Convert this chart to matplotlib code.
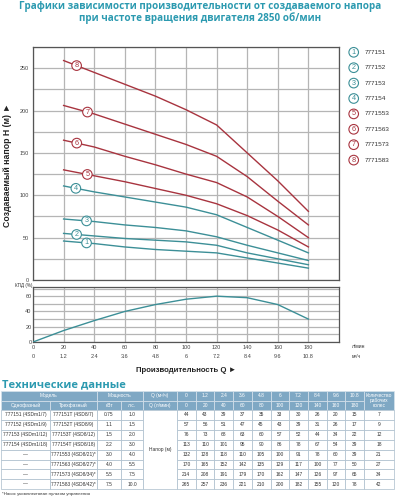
import numpy as np
import matplotlib
matplotlib.use("Agg")
import matplotlib.pyplot as plt
from matplotlib.patches import Rectangle

# ---- chart data ----
q_lpm = [20, 40, 60, 80, 100, 120, 140, 160, 180]
head_1 = [46, 43, 39, 36, 34, 32, 26, 20, 14]
head_2 = [55, 52, 49, 47, 45, 41, 32, 25, 18]
head_3 = [72, 69, 65, 62, 58, 51, 41, 32, 23]
head_4 = [111, 104, 98, 92, 86, 77, 62, 47, 32]
head_5 = [130, 123, 116, 108, 100, 90, 76, 59, 39]
head_6 = [165, 157, 146, 136, 125, 115, 98, 75, 50]
head_7 = [206, 196, 184, 172, 160, 146, 122, 93, 65]
head_8 = [259, 245, 231, 217, 201, 183, 150, 117, 81]
models = ["777151", "777152", "777153", "777154",
          "7771553", "7771563", "7771573", "7771583"]
label_q = [35, 28.5, 35, 28, 35.5, 28.6, 35.6, 28.5]

eff_q = [0, 20, 40, 60, 80, 100, 120, 140, 160, 180]
eff = [0, 15, 28, 40, 49, 56, 60, 58, 49, 30]

x_lpm_ticks = [0, 20, 40, 60, 80, 100, 120, 140, 160, 180]
x_m3h_ticks = ["0", "1.2", "2.4", "3.6", "4.8", "6", "7.2", "8.4", "9.6", "10.8"]

# ---- table data ----
single_phase = ["777151 (4SDm1/7)", "777152 (4SDm1/9)", "777153 (4SDm1/12)",
                "777154 (4SDm1/18)", "—", "—", "—", "—"]
three_phase = ["777151T (4SD8/7)", "777152T (4SD8/9)", "777153T (4SD8/12)",
               "777154T (4SD8/18)", "7771553 (4SD8/21)*", "7771563 (4SD8/27)*",
               "7771573 (4SD8/34)*", "7771583 (4SD8/42)*"]
power_kw = ["0.75", "1.1", "1.5", "2.2", "3.0", "4.0", "5.5", "7.5"]
power_hp = ["1.0", "1.5", "2.0", "3.0", "4.0", "5.5", "7.5", "10.0"]
table_heads = [
    [44, 43, 39, 37, 35, 33, 30, 26, 20, 15],
    [57, 56, 51, 47, 45, 43, 39, 31, 26, 17],
    [76, 73, 68, 63, 60, 57, 52, 44, 34, 22],
    [113, 110, 101, 95, 90, 86, 78, 67, 54, 39],
    [132, 128, 118, 110, 105, 100, 91, 78, 60, 39],
    [170, 165, 152, 142, 135, 129, 117, 100, 77, 50],
    [214, 208, 191, 179, 170, 162, 147, 126, 97, 65],
    [265, 257, 236, 221, 210, 200, 182, 155, 120, 78],
]
impellers = [7, 9, 12, 18, 21, 27, 34, 42]

RED = "#a8343f"
TEAL = "#3c8f97"
TITLE = "#2c9ab0"
HEADER = "#7fa8c4"
GRID = "#b5b5b5"

plt.rcParams['font.family'] = ['Liberation Sans', 'DejaVu Sans']

W, H = 396, 499
fig = plt.figure(figsize=(W / 100, H / 100), dpi=100)


def px_axes(left, top, right, bottom):
    return fig.add_axes([left / W, 1 - bottom / H, (right - left) / W, (bottom - top) / H])


# ---- main head chart ----
ax = px_axes(33, 47, 339, 280)
ax.set_xlim(0, 200)
ax.set_ylim(0, 275)
ax.set_xticks(range(0, 201, 20))
ax.set_yticks(range(0, 276, 25))
ax.set_yticklabels([str(v) if v % 50 == 0 else "" for v in range(0, 276, 25)])
ax.tick_params(length=0, labelsize=4, colors="#444444", pad=3, labelbottom=False)
ax.grid(True, color=GRID, lw=0.9)
for s in ax.spines.values():
    s.set_color("#555555")
    s.set_linewidth(0.9)

curves = [head_1, head_2, head_3, head_4, head_5, head_6, head_7, head_8]
for i, h in enumerate(curves):
    col = TEAL if i < 4 else RED
    ax.plot(q_lpm, h, color=col, lw=1.0, zorder=3)
    lq = label_q[i]
    ax.text(lq, np.interp(lq, q_lpm, h), str(i + 1), color=col, fontsize=5.2,
            ha="center", va="center", zorder=4,
            bbox=dict(boxstyle="circle,pad=0.18", fc="white", ec=col, lw=0.8))

# ---- efficiency chart ----
ax2 = px_axes(33, 287, 339, 342)
ax2.set_xlim(0, 200)
ax2.set_ylim(0, 72)
ax2.set_xticks(x_lpm_ticks)
ax2.set_xticklabels([f"{a}\n{b}" for a, b in zip(x_lpm_ticks, x_m3h_ticks)],
                    linespacing=2.0)
ax2.set_yticks(range(0, 71, 10))
ax2.set_yticklabels([str(v) if v % 20 == 0 else "" for v in range(0, 71, 10)])
ax2.tick_params(length=0, labelsize=4, colors="#444444", pad=1)
ax2.tick_params(axis="x", pad=2)
ax2.grid(True, color=GRID, lw=0.9)
for s in ax2.spines.values():
    s.set_color("#555555")
    s.set_linewidth(0.9)
ax2.plot(eff_q, eff, color=TEAL, lw=1.0, zorder=3)

# ---- overlay for texts and table (pixel coords) ----
ov = fig.add_axes([0, 0, 1, 1])
ov.set_xlim(0, W)
ov.set_ylim(H, 0)
ov.axis("off")

ov.text(200, 6.5, "Графики зависимости производительности от создаваемого напора",
        ha="center", va="center", fontsize=7.1, fontweight="bold", color=TITLE,
        family="Open Sans")
ov.text(200, 18.5, "при частоте вращения двигателя 2850 об/мин",
        ha="center", va="center", fontsize=7.1, fontweight="bold", color=TITLE,
        family="Open Sans")

ov.text(8, 165, "Создаваемый напор Н (м) ►", rotation=90, ha="center", va="center",
        fontsize=6.3, fontweight="bold", color="#222222")
ov.text(24, 285.5, "КПД (%)", ha="center", va="center", fontsize=3.3, color="#333333")
ov.text(352, 346, "л/мин", ha="left", va="center", fontsize=3.6, color="#333333")
ov.text(352, 356, "м³/ч", ha="left", va="center", fontsize=3.6, color="#333333")
ov.text(186, 371, "Производительность Q ►", ha="center", va="center",
        fontsize=5.6, fontweight="bold", color="#222222")

for i, m in enumerate(models):
    col = TEAL if i < 4 else RED
    y = 52.3 + 15.4 * i
    ov.text(353.7, y, str(i + 1), color=col, fontsize=5.2, ha="center", va="center",
            bbox=dict(boxstyle="circle,pad=0.18", fc="white", ec=col, lw=0.8))
    ov.text(365, y, m, color="#333333", fontsize=4.6, ha="left", va="center")

ov.text(2, 385, "Технические данные", ha="left", va="center", fontsize=8,
        fontweight="bold", color=TITLE, family="Open Sans")

# ---- table ----
col_x = [1, 50, 97, 121, 143, 177] + [177 + 18.7 * k for k in range(1, 11)] + [394]
head_top, head_mid, data_top, row_h = 391, 400.5, 410, 9.9
fs = 3.5


def cell(x0, x1, y0, y1, text, fc="white", tc="#333333", ec="#a9bccb"):
    ov.add_patch(Rectangle((x0, y0), x1 - x0, y1 - y0, fc=fc, ec=ec, lw=0.5))
    if text != "":
        ov.text((x0 + x1) / 2, (y0 + y1) / 2, text, ha="center", va="center",
                fontsize=fs, color=tc, linespacing=1.0)


hc = dict(fc=HEADER, tc="white", ec="#d7e3ec")
cell(col_x[0], col_x[2], head_top, head_mid, "Модель", **hc)
cell(col_x[2], col_x[4], head_top, head_mid, "Мощность", **hc)
cell(col_x[4], col_x[5], head_top, head_mid, "Q (м³/ч)", **hc)
cell(col_x[0], col_x[1], head_mid, data_top, "Однофазный", **hc)
cell(col_x[1], col_x[2], head_mid, data_top, "Трехфазный", **hc)
cell(col_x[2], col_x[3], head_mid, data_top, "кВт", **hc)
cell(col_x[3], col_x[4], head_mid, data_top, "л.с.", **hc)
cell(col_x[4], col_x[5], head_mid, data_top, "Q (л/мин)", **hc)
for k in range(10):
    cell(col_x[5 + k], col_x[6 + k], head_top, head_mid, x_m3h_ticks[k], **hc)
    cell(col_x[5 + k], col_x[6 + k], head_mid, data_top, str(x_lpm_ticks[k]), **hc)
cell(col_x[15], col_x[16], head_top, data_top, "Количество\nрабочих\nколес", **hc)

for r in range(8):
    y0 = data_top + r * row_h
    y1 = y0 + row_h
    cell(col_x[0], col_x[1], y0, y1, single_phase[r])
    cell(col_x[1], col_x[2], y0, y1, three_phase[r])
    cell(col_x[2], col_x[3], y0, y1, power_kw[r])
    cell(col_x[3], col_x[4], y0, y1, power_hp[r])
    for k in range(10):
        cell(col_x[5 + k], col_x[6 + k], y0, y1, str(table_heads[r][k]))
    cell(col_x[15], col_x[16], y0, y1, str(impellers[r]))
cell(col_x[4], col_x[5], data_top, data_top + 8 * row_h, "Напор (м)")

ov.text(2, 494, "*Насос укомплектован пультом управления", ha="left", va="center",
        fontsize=3.2, color="#333333")

fig.savefig("out.png", dpi=100)
